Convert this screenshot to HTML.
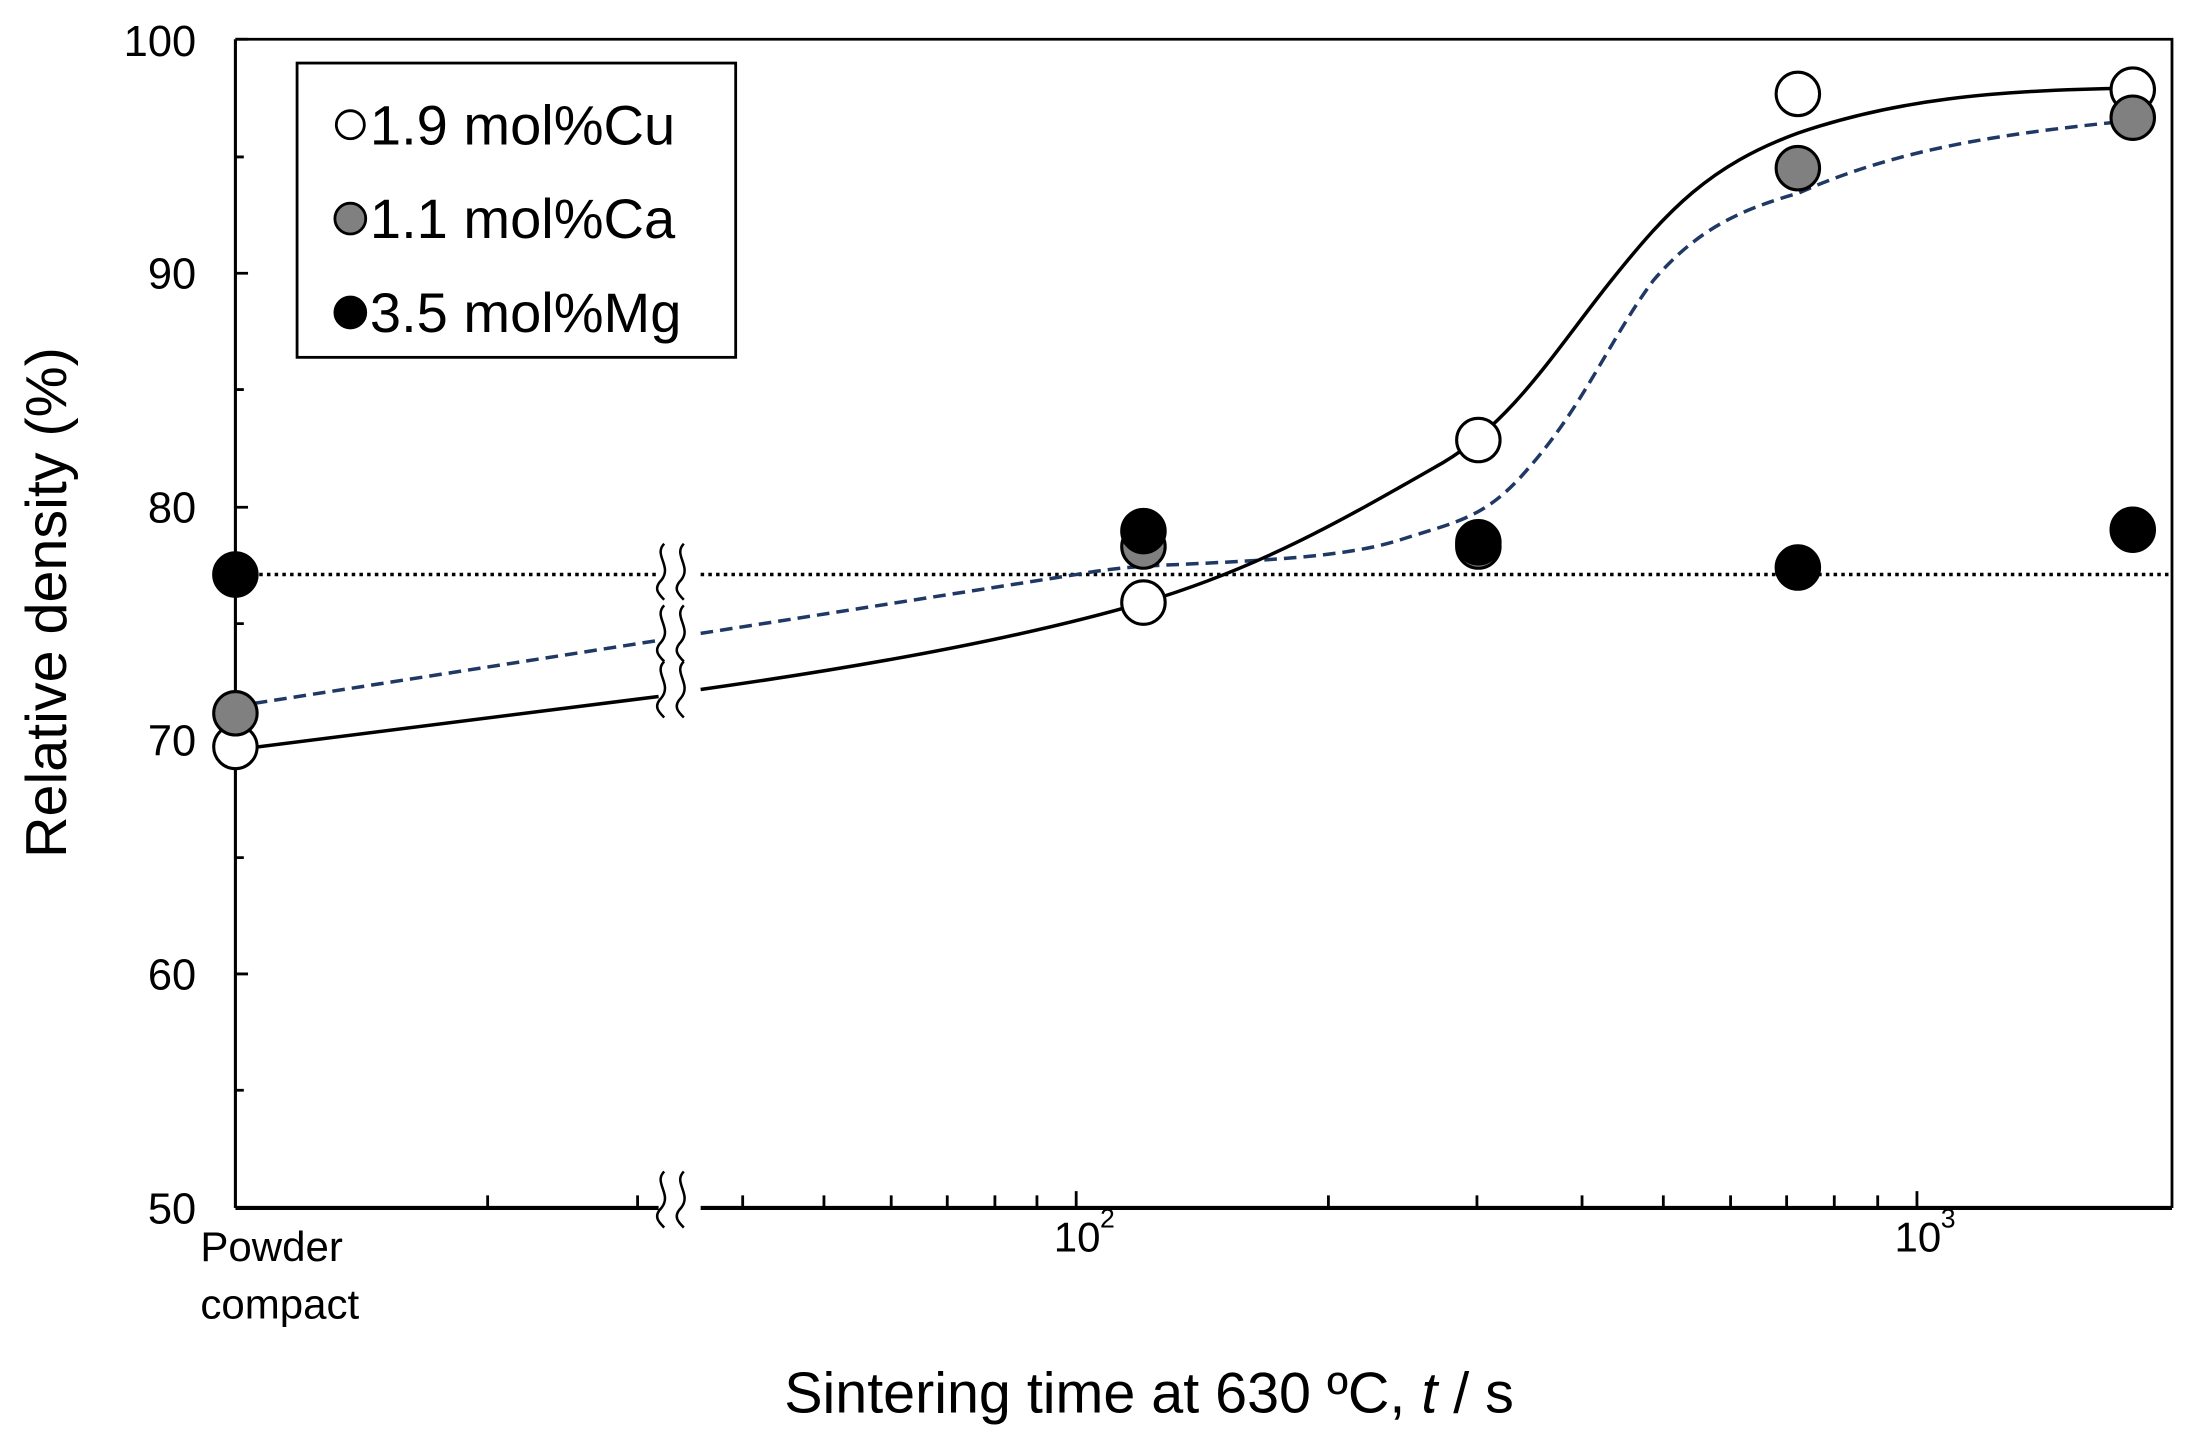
<!DOCTYPE html>
<html><head><meta charset="utf-8"><style>
html,body{margin:0;padding:0;background:#fff;}
svg{display:block;}
text{font-family:"Liberation Sans",Arial,sans-serif;fill:#000;}
</style></head><body>
<svg width="2186" height="1433" viewBox="0 0 1560 1022.6" preserveAspectRatio="none" xmlns="http://www.w3.org/2000/svg">
<defs>
<g id="brk"><path d="M474,-14 C466,-6 480,2 472,12 C466,18 470,22 474,26"/><path d="M488,-14 C480,-6 494,2 486,12 C480,18 484,22 488,26"/></g>
</defs>
<rect x="0" y="0" width="1560" height="1023" fill="#fff"/>
<path d="M168,28 H1550 V862" fill="none" stroke="#000" stroke-width="2"/>
<path d="M168,28 V862" fill="none" stroke="#000" stroke-width="2.2"/>
<path d="M168,862 H470 M500,862 H1550" fill="none" stroke="#000" stroke-width="3"/>
<g stroke="#000" stroke-width="2">
<path d="M168,28h9M168,112h6M168,195h9M168,278h6M168,362h9M168,445h6M168,528h9M168,612h6M168,695h9M168,778h6"/>
<path d="M348,862v-9M455,862v-9M530,862v-9M588,862v-9M636,862v-9M676,862v-9M710,862v-9M740,862v-9M768,862v-12M948,862v-9M1054,862v-9M1129,862v-9M1187,862v-9M1235,862v-9M1275,862v-9M1309,862v-9M1340,862v-9M1368,862v-12"/>
</g>
<g font-size="31" text-anchor="end">
<text x="140" y="40">100</text><text x="140" y="206">90</text><text x="140" y="373">80</text>
<text x="140" y="539">70</text><text x="140" y="706">60</text><text x="140" y="873">50</text>
</g>
<g font-size="30">
<text x="143" y="900">Powder</text><text x="143" y="941">compact</text>
<text x="752" y="893">10</text><text x="785" y="876" font-size="19">2</text>
<text x="1352" y="893">10</text><text x="1385" y="876" font-size="19">3</text>
</g>
<text x="820" y="1008" font-size="41" text-anchor="middle">Sintering time at 630 ºC, <tspan font-style="italic">t</tspan> / s</text>
<text transform="translate(47,430) rotate(-90)" font-size="41" text-anchor="middle">Relative density (%)</text>
<path d="M185,410 H470 M500,410 H1550" stroke="#000" stroke-width="2.5" stroke-dasharray="2.5,3"/>
<path d="M168,504 L470,457 M500,452 L768,410 C790,406 805,405 816,404 C900,400 960,398 1000,385 C1040,372 1060,370 1090,335 C1130,290 1150,240 1180,200 C1210,165 1240,150 1283,138 C1350,108 1420,96 1522,86" fill="none" stroke="#1f3864" stroke-width="2.5" stroke-dasharray="9,5"/>
<path d="M168,535 L470,497 M500,492 C600,478 720,458 816,430 C900,405 960,370 1030,330 C1080,300 1110,250 1150,200 C1190,150 1220,118 1283,95 C1350,72 1420,64 1522,63" fill="none" stroke="#000" stroke-width="2.5"/>
<rect x="471" y="394" width="18" height="30" fill="#fff"/>
<rect x="471" y="440" width="18" height="30" fill="#fff"/>
<rect x="471" y="480" width="18" height="30" fill="#fff"/>
<rect x="471" y="845" width="18" height="35" fill="#fff"/>
<g fill="none" stroke="#000" stroke-width="1.8">
<use href="#brk" transform="translate(0,402)"/><use href="#brk" transform="translate(0,446)"/>
<use href="#brk" transform="translate(0,486)"/><use href="#brk" transform="translate(0,850)"/>
</g>
<g stroke="#000" stroke-width="2.2">
<circle cx="168" cy="533" r="15.5" fill="#fff"/>
<circle cx="168" cy="509" r="15.5" fill="#808080"/>
<circle cx="168" cy="410" r="15.5" fill="#000"/>
<circle cx="816" cy="430" r="15.5" fill="#fff"/>
<circle cx="816" cy="390" r="15.5" fill="#808080"/>
<circle cx="816" cy="379" r="15.5" fill="#000"/>
<circle cx="1055" cy="314" r="15.5" fill="#fff"/>
<circle cx="1055" cy="390" r="15.5" fill="#808080"/>
<circle cx="1055" cy="387" r="15.5" fill="#000"/>
<circle cx="1283" cy="67" r="15.5" fill="#fff"/>
<circle cx="1283" cy="120" r="15.5" fill="#808080"/>
<circle cx="1283" cy="405" r="15.5" fill="#000"/>
<circle cx="1522" cy="64" r="15.5" fill="#fff"/>
<circle cx="1522" cy="84" r="15.5" fill="#808080"/>
<circle cx="1522" cy="378" r="15.5" fill="#000"/>
</g>
<rect x="212" y="45" width="313" height="210" fill="#fff" stroke="#000" stroke-width="2"/>
<g stroke="#000" stroke-width="2">
<circle cx="250" cy="89" r="10" fill="#fff"/>
<circle cx="250" cy="156" r="11" fill="#808080"/>
<circle cx="250" cy="223" r="11" fill="#000"/>
</g>
<g font-size="40">
<text x="264" y="103">1.9 mol%Cu</text>
<text x="264" y="170">1.1 mol%Ca</text>
<text x="264" y="237">3.5 mol%Mg</text>
</g>
</svg>
</body></html>
